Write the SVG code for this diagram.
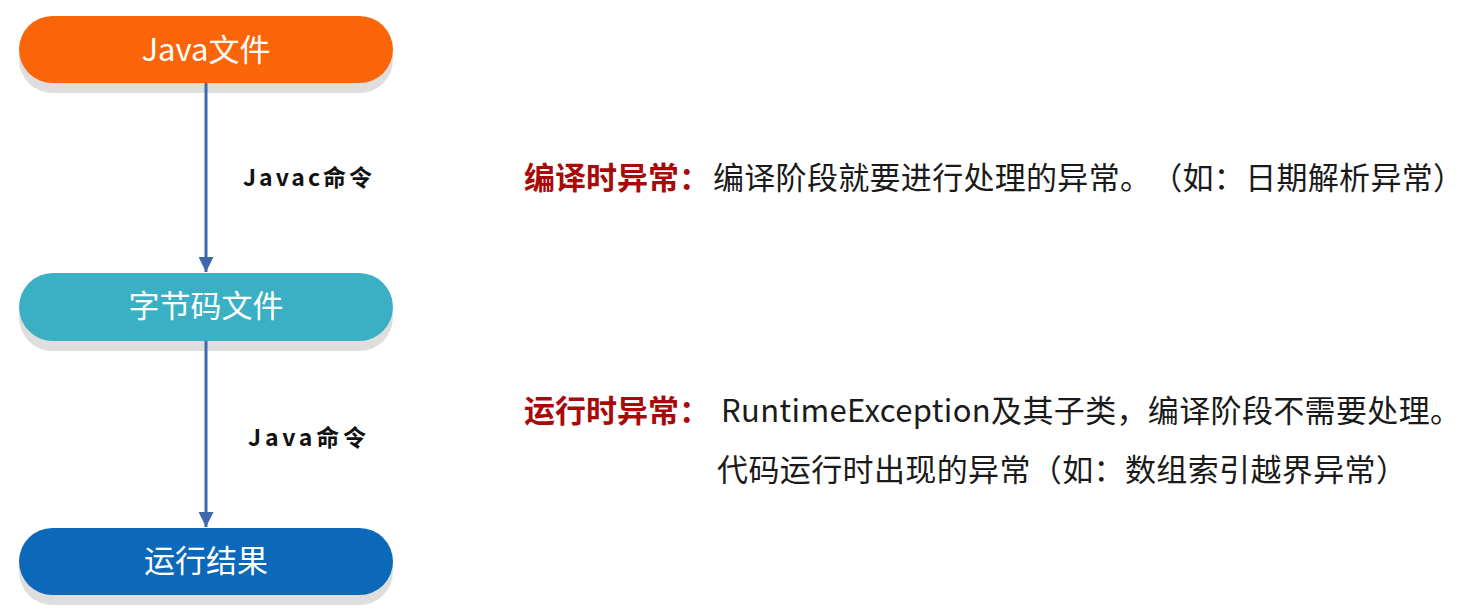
<svg xmlns="http://www.w3.org/2000/svg" width="1471" height="612" viewBox="0 0 1471 612">
<style>
text{text-spacing-trim:space-all;}
.shadow{fill:#dedede;}
.nodetext{font-family:"Noto Sans CJK SC","Noto Sans",sans-serif;font-size:31px;fill:#ffffff;text-anchor:middle;}
.lbl{font-family:"Noto Sans CJK SC","Noto Sans",sans-serif;font-size:23px;font-weight:bold;fill:#111111;}
.red{font-family:"Noto Sans CJK SC",sans-serif;font-size:31px;font-weight:bold;fill:#a80a0a;}
.body{font-family:"Noto Sans CJK SC",sans-serif;font-size:31px;fill:#1a1a1a;}
.conn{stroke:#3f68ad;stroke-width:3;fill:none;}
</style>
<defs>
<marker id="arr" viewBox="0 0 10 10" refX="10" refY="5" markerWidth="5" markerHeight="5" orient="auto" markerUnits="strokeWidth">
<path d="M0,0 L10,5 L0,10 z" fill="#3f68ad"/>
</marker>
</defs>
<rect width="1471" height="612" fill="#ffffff"/>
<g id="node-java">
<rect class="shadow" x="19" y="26" width="374" height="67" rx="33.5"/>
<rect x="19" y="16" width="374" height="67" rx="33.5" fill="#fb6509"/>
<text class="nodetext" x="206" y="61">Java文件</text>
</g>
<g id="node-bytecode">
<rect class="shadow" x="19" y="284" width="374" height="67" rx="33.5"/>
<rect x="19" y="273" width="374" height="68" rx="34" fill="#3bb0c4"/>
<text class="nodetext" x="206" y="317">字节码文件</text>
</g>
<g id="node-result">
<rect class="shadow" x="19" y="538" width="374" height="67" rx="33.5"/>
<rect x="19" y="528" width="374" height="67" rx="33.5" fill="#0c68b8"/>
<text class="nodetext" x="206" y="572">运行结果</text>
</g>
<g id="connectors">
<line class="conn" x1="206" y1="83" x2="206" y2="272" marker-end="url(#arr)"/>
<line class="conn" x1="206" y1="341" x2="206" y2="527" marker-end="url(#arr)"/>
</g>
<g id="label-javac">
<text class="lbl" x="243" y="186" textLength="129" lengthAdjust="spacing">Javac命令</text>
</g>
<g id="label-java">
<text class="lbl" x="248" y="446" textLength="118" lengthAdjust="spacing">Java命令</text>
</g>
<g id="compile-exception">
<text class="red" x="524" y="189">编译时异常：</text>
<text class="body" x="713" y="189" textLength="751" lengthAdjust="spacing">编译阶段就要进行处理的异常。（如：日期解析异常）</text>
</g>
<g id="runtime-exception">
<text class="red" x="524" y="422">运行时异常：</text>
<text class="body" x="721" y="422" textLength="740" lengthAdjust="spacing">RuntimeException及其子类，编译阶段不需要处理。</text>
<text class="body" x="717" y="481" textLength="690" lengthAdjust="spacing">代码运行时出现的异常（如：数组索引越界异常）</text>
</g>
</svg>
